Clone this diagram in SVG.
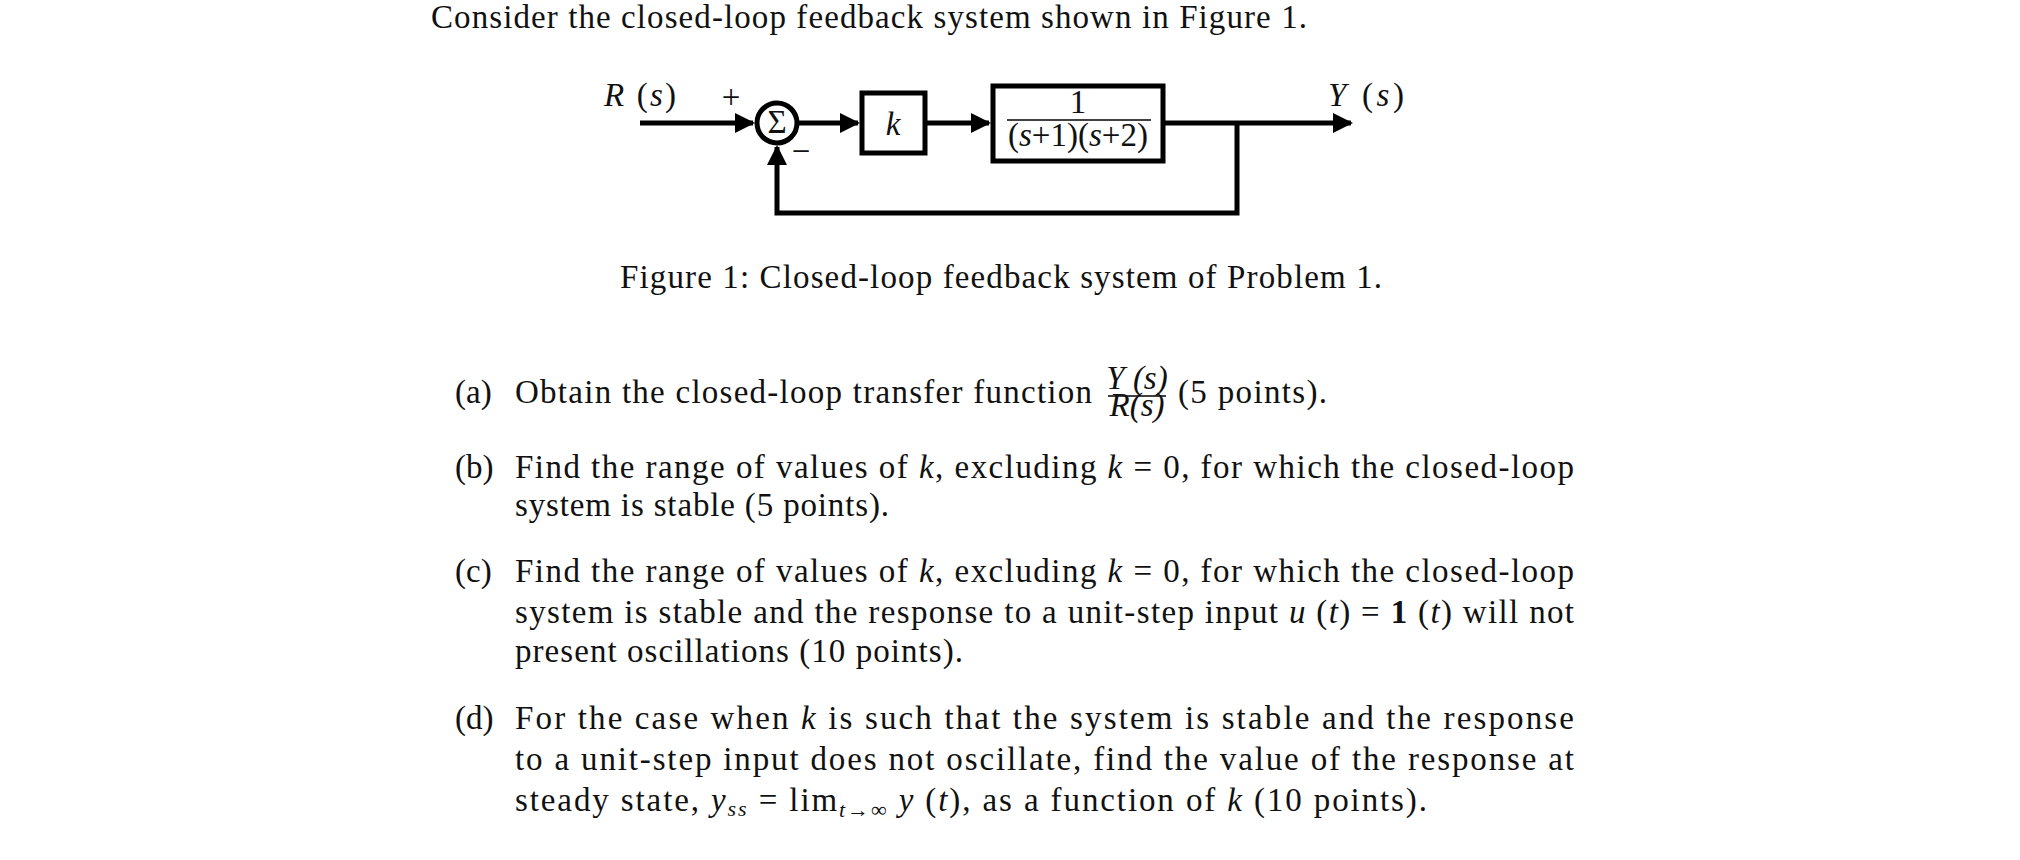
<svg xmlns="http://www.w3.org/2000/svg" width="2020" height="860" viewBox="0 0 2020 860">
<style>
text{font-family:"Liberation Serif","DejaVu Serif",serif;fill:#111;font-size:33px}
.i{font-style:italic}
.w{stroke:#000;stroke-width:5;fill:none}
.b{stroke:#000;stroke-width:5;fill:#fff}
</style>
<defs><marker id="ar" viewBox="0 0 10 10" refX="9" refY="5" markerWidth="4" markerHeight="4" orient="auto" markerUnits="strokeWidth"><path d="M0,0L10,5L0,10z" fill="#000"/></marker></defs>
<rect width="2020" height="860" fill="#fff"/>
<text x="431" y="28" textLength="876" lengthAdjust="spacing">Consider the closed-loop feedback system shown in Figure 1.</text>
<g id="connectors">
<path class="w" d="M640,123H753" marker-end="url(#ar)"/>
<path class="w" d="M797,123H858" marker-end="url(#ar)"/>
<path class="w" d="M925,123H989" marker-end="url(#ar)"/>
<path class="w" d="M1163,123H1351" marker-end="url(#ar)"/>
<path class="w" d="M1237,123V213H777V147" marker-end="url(#ar)"/>
</g>
<g id="sum"><circle class="b" cx="777" cy="123" r="20"/><text x="777" y="133" text-anchor="middle" font-size="26">Σ</text>
<text x="731" y="108" text-anchor="middle" font-size="34">+</text><text x="801" y="162" text-anchor="middle" font-size="34">−</text></g>
<g id="k"><rect class="b" x="862" y="93" width="63" height="60"/><text class="i" x="893" y="135" text-anchor="middle" font-size="34">k</text></g>
<g id="G"><rect class="b" x="993" y="86" width="170" height="75"/><text x="1078" y="113" text-anchor="middle" font-size="21">1</text>
<line x1="1007" y1="120" x2="1151" y2="120" stroke="#000" stroke-width="1.5"/>
<text x="1078" y="146" text-anchor="middle" font-size="24" textLength="140" lengthAdjust="spacing">(<tspan class="i">s</tspan>+1)(<tspan class="i">s</tspan>+2)</text></g>
<g id="R"><text x="604" y="106" font-size="35" textLength="72" lengthAdjust="spacing"><tspan class="i">R</tspan> (<tspan class="i">s</tspan>)</text></g>
<g id="Y"><text x="1328" y="106" font-size="35" textLength="76" lengthAdjust="spacing"><tspan class="i">Y</tspan> (<tspan class="i">s</tspan>)</text></g>
<text x="620" y="288" textLength="762" lengthAdjust="spacing">Figure 1: Closed-loop feedback system of Problem 1.</text>
<text x="455" y="403">(a)</text>
<text x="515" y="403" textLength="577" lengthAdjust="spacing">Obtain the closed-loop transfer function</text>
<text class="i" x="1137" y="389" text-anchor="middle" font-size="19">Y (s)</text>
<line x1="1108" y1="396" x2="1166" y2="396" stroke="#000" stroke-width="1.3"/>
<text class="i" x="1137" y="416" text-anchor="middle" font-size="19">R(s)</text>
<text x="1178" y="403" textLength="149" lengthAdjust="spacing">(5 points).</text>
<text x="455" y="478">(b)</text>
<text x="515" y="478" textLength="1059" lengthAdjust="spacing">Find the range of values of <tspan class="i">k</tspan>, excluding <tspan class="i">k</tspan> = 0, for which the closed-loop</text>
<text x="515" y="516" textLength="374" lengthAdjust="spacing">system is stable (5 points).</text>
<text x="455" y="582">(c)</text>
<text x="515" y="582" textLength="1059" lengthAdjust="spacing">Find the range of values of <tspan class="i">k</tspan>, excluding <tspan class="i">k</tspan> = 0, for which the closed-loop</text>
<text x="515" y="623" textLength="1059" lengthAdjust="spacing">system is stable and the response to a unit-step input <tspan class="i">u</tspan> (<tspan class="i">t</tspan>) = <tspan font-weight="bold">1</tspan> (<tspan class="i">t</tspan>) will not</text>
<text x="515" y="662" textLength="448" lengthAdjust="spacing">present oscillations (10 points).</text>
<text x="455" y="729">(d)</text>
<text x="515" y="729" textLength="1059" lengthAdjust="spacing">For the case when <tspan class="i">k</tspan> is such that the system is stable and the response</text>
<text x="515" y="770" textLength="1059" lengthAdjust="spacing">to a unit-step input does not oscillate, find the value of the response at</text>
<text x="515" y="811" textLength="912" lengthAdjust="spacing">steady state, <tspan class="i">y</tspan><tspan class="i" font-size="22" dy="5">ss</tspan><tspan dy="-5"> = lim</tspan><tspan class="i" font-size="22" dy="6">t</tspan><tspan font-size="22">→∞</tspan><tspan class="i" dy="-6"> y</tspan> (<tspan class="i">t</tspan>), as a function of <tspan class="i">k</tspan> (10 points).</text>
</svg>
